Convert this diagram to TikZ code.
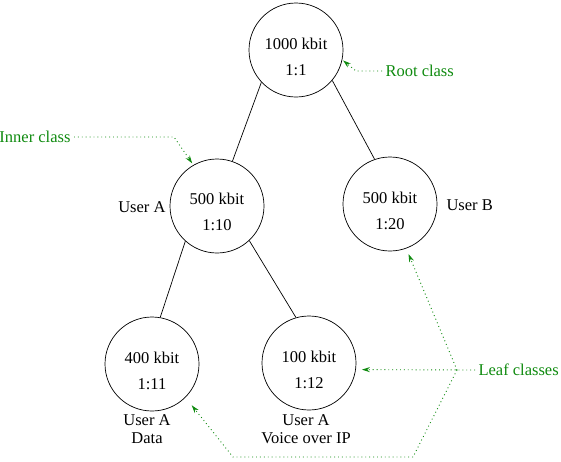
\documentclass[tikz,border=0pt]{standalone}
\usepackage{fontspec}
\setmainfont{Liberation Serif}
\usetikzlibrary{arrows.meta}
\definecolor{NoteGreen}{HTML}{0E8A0E}

\begin{document}
\begin{tikzpicture}[x=1pt,y=-1pt,
  every node/.style={font=\fontsize{16.5}{19}\selectfont},
  qclass/.style={draw, circle, minimum size=94pt, inner sep=0pt, line width=0.7pt},
  rate/.style={align=center, font=\fontsize{16.5}{26}\selectfont},
  owner/.style={align=center, font=\fontsize{16.5}{18}\selectfont},
  link/.style={line width=0.7pt},
  note/.style={NoteGreen, line width=0.9pt, dash pattern=on 0.9pt off 3pt, -{Stealth[length=8pt,width=5pt]}},
  notetext/.style={text=NoteGreen}]
  \useasboundingbox (0,0) rectangle (561,461);
  \node[qclass] (root) at (296,50) {};
  \node[qclass] (usera) at (217,206) {};
  \node[qclass] (userb) at (390,204) {};
  \node[qclass] (leafa) at (152,364) {};
  \node[qclass] (leafb) at (309,363) {};
  \node[rate] (root-t) at ([yshift=-7pt]root.center) {1000 kbit\\1:1};
  \node[rate] (usera-t) at ([yshift=-6pt]usera.center) {500 kbit\\1:10};
  \node[rate] (userb-t) at ([yshift=-7pt]userb.center) {500 kbit\\1:20};
  \node[rate] (leafa-t) at ([yshift=-7pt]leafa.center) {400 kbit\\1:11};
  \node[rate] (leafb-t) at ([yshift=-7pt]leafb.center) {100 kbit\\1:12};
  \draw[link] (root.223) -- (usera.71);
  \draw[link] (root.320) -- (userb.109);
  \draw[link] (usera.228) -- (leafa.80);
  \draw[link] (usera.313) -- (leafb.106);
  \node[anchor=east] (usera-name) at (169,207) {User A};
  \node[anchor=west] (userb-name) at (443,205) {User B};
  \node[owner] (leafa-name) at (147,429) {User A\\Data};
  \node[owner] (leafb-name) at (306,429) {User A\\Voice over IP};
  \node[notetext, anchor=west] (rootlbl) at (382,71) {Root class};
  \node[notetext, anchor=east] (innerlbl) at (74,137) {Inner class};
  \node[notetext, anchor=west] (leaflbl) at (475,370) {Leaf classes};
  \coordinate (rootbend) at (356,71);
  \coordinate (innerbend) at (174,137);
  \coordinate (leafjoin) at (457,370);
  \coordinate (leafbot1) at (413,457);
  \coordinate (leafbot2) at (233,457);
  \draw[note, shorten >=1pt] (rootlbl.west) -- (rootbend) -- (root.-12);
  \draw[note, shorten >=2pt] (innerlbl.east) -- (innerbend) -- (usera.120);
  \draw[note, shorten >=6pt] (leaflbl.west) -- (leafb.-8);
  \draw[note, shorten >=6pt] (leafjoin) -- (userb.-70);
  \draw[note, shorten >=10pt] (leafjoin) -- (leafbot1) -- (leafbot2) -- (leafa.-45);
\end{tikzpicture}
\end{document}
